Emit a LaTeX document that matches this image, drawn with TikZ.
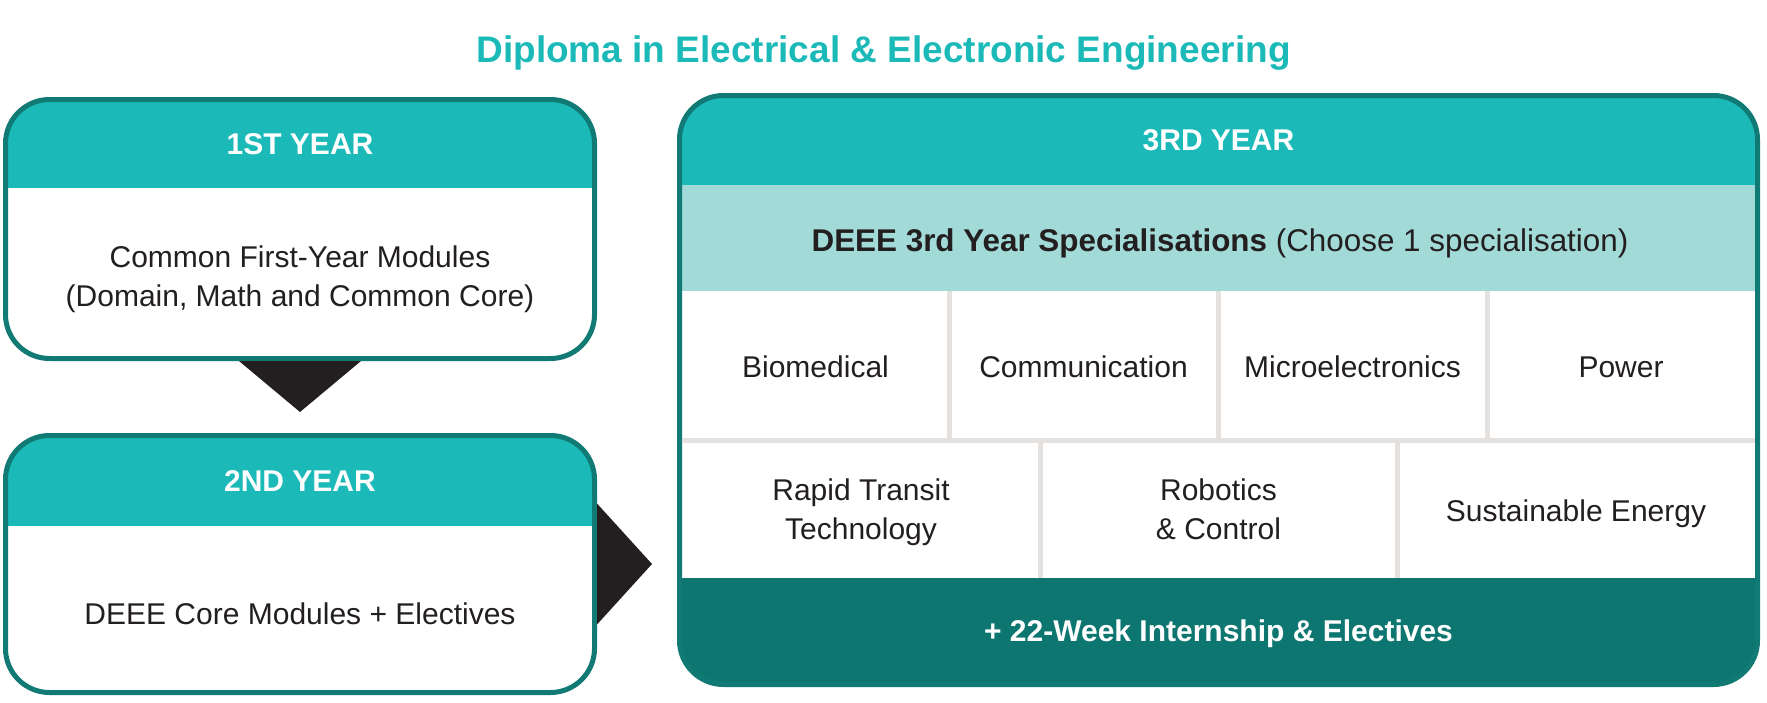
\documentclass[tikz,border=0pt]{standalone}
\usepackage{fontspec}
\setmainfont{Liberation Sans}
\usepackage{tikz}

\definecolor{tealmid}{HTML}{1BBAB8}
\definecolor{tealdark}{HTML}{127A74}
\definecolor{tealdeep}{HTML}{0E7670}
\definecolor{teallight}{HTML}{A2DAD8}
\definecolor{gridgrey}{HTML}{E4E1DF}
\definecolor{inkblack}{HTML}{231F20}

\tikzset{
	yearbox/.style={draw=tealdark, line width=2.5pt, fill=white, rounded corners=22pt, inner sep=0pt},
	headband/.style={path picture={\fill [tealmid, sharp corners] (path picture bounding box.north west) rectangle ([yshift=-#1]path picture bounding box.north east);}},
	titletext/.style={text=tealmid, font=\fontsize{18.5}{22}\selectfont\bfseries},
	headtext/.style={text=white, font=\fontsize{15}{18}\selectfont\bfseries},
	bodytext/.style={text=inkblack, font=\fontsize{15}{19.5}\selectfont, align=center, execute at begin node=\strut, execute at end node=\strut},
	gridline/.style={draw=gridgrey, line width=2.5pt},
	pointer/.style={fill=inkblack}
}

\begin{document}
\begin{tikzpicture}[x=0.5pt, y=-0.5pt]
		\useasboundingbox (0,0) rectangle (1767,702);
		%title
		\node [titletext] (title) at (883.5,53) {Diploma in Electrical \& Electronic Engineering};
		%1
		\node [yearbox, headband=44.25pt, minimum width=294.5pt, minimum height=129.5pt] (y1) at (300,229) {};
		\node [headtext] (h1) at (300,144) {1ST YEAR};
		\node [bodytext] (b1) at (300,282) {Common First-Year Modules\\(Domain, Math and Common Core)};
		%2
		\node [yearbox, headband=45.25pt, minimum width=294.5pt, minimum height=128.5pt] (y2) at (300,564) {};
		\node [headtext] (h2) at (300,481) {2ND YEAR};
		\node [bodytext] (b2) at (300,617) {DEEE Core Modules + Electives};
		%3
		\node [yearbox, minimum width=539pt, minimum height=294.5pt, path picture={
			\fill [tealmid, sharp corners] (path picture bounding box.north west) rectangle ([yshift=-44.75pt]path picture bounding box.north east);
			\fill [teallight, sharp corners] ([yshift=-44.75pt]path picture bounding box.north west) rectangle ([yshift=-97.75pt]path picture bounding box.north east);
			\fill [tealdeep, sharp corners] ([yshift=53.25pt]path picture bounding box.south west) rectangle (path picture bounding box.south east);}] (y3) at (1218.5,390) {};
		\node [headtext] (h3) at (1218.5,140) {3RD YEAR};
		\node [bodytext, font=\fontsize{15.7}{19}\selectfont] (spec) at (1220,244) {\textbf{DEEE 3rd Year Specialisations} (Choose 1 specialisation)};
		\node [headtext] (intern) at (1218.5,634) {+ 22-Week Internship \& Electives};
		%grid
		\draw [gridline] (682,440) -- (1755,440);
		\draw [gridline] (949,291) -- (949,440);
		\draw [gridline] (1218,291) -- (1218,440);
		\draw [gridline] (1487,291) -- (1487,440);
		\draw [gridline] (1040,440) -- (1040,578);
		\draw [gridline] (1397,440) -- (1397,578);
		%specialisations
		\node [bodytext] (bio) at (815.5,370) {Biomedical};
		\node [bodytext] (comm) at (1083.5,370) {Communication};
		\node [bodytext] (micro) at (1352.5,370) {Microelectronics};
		\node [bodytext] (power) at (1621,370) {Power};
		\node [bodytext] (rapid) at (861,515) {Rapid Transit\\Technology};
		\node [bodytext] (robot) at (1218.5,515) {Robotics\\\& Control};
		\node [bodytext] (sust) at (1576,514) {Sustainable Energy};
		%pointers
		\fill [pointer] ([xshift=-30.5pt]y1.south) -- ([xshift=30.5pt]y1.south) -- ([yshift=-25.5pt]y1.south) -- cycle;
		\fill [pointer] ([yshift=30.25pt]y2.east) -- ([yshift=-30.25pt]y2.east) -- ([xshift=27.5pt]y2.east) -- cycle;
\end{tikzpicture}
\end{document}
